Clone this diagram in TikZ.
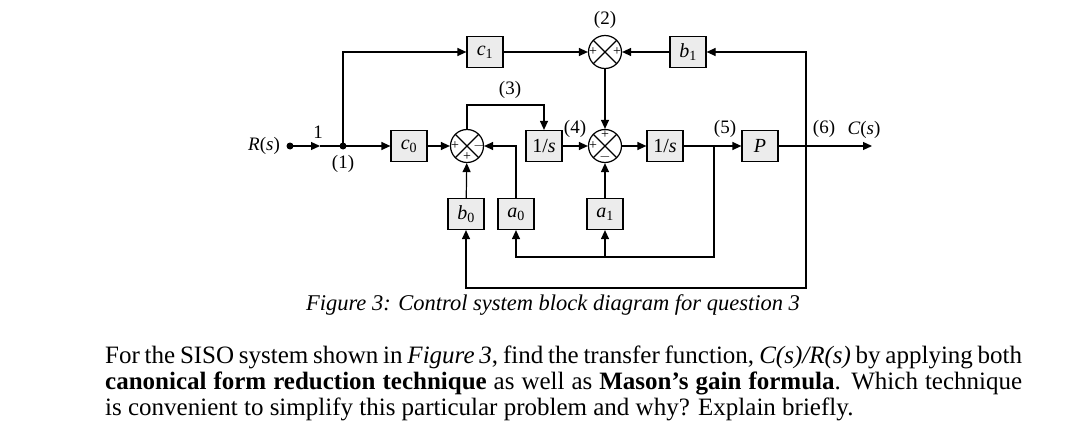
\documentclass[tikz,border=0pt]{standalone}
\usepackage{fontspec}
\setmainfont{Liberation Serif}
\usetikzlibrary{arrows.meta}
\newcommand{\vv}[2]{\textit{#1}\textsubscript{#2}}
\begin{document}
\begin{tikzpicture}[x=1pt,y=-1pt,
  blk/.style={draw,line width=1.2pt,fill=gray!15,minimum width=36pt,minimum height=31pt,inner sep=0pt,font=\fontsize{20}{20}\selectfont},
  sum/.style={draw,line width=1.2pt,circle,minimum size=33pt,inner sep=0pt,
    path picture={\draw[line width=1.1pt] (path picture bounding box.north west)--(path picture bounding box.south east)
      (path picture bounding box.north east)--(path picture bounding box.south west);}},
  sg/.style={font=\fontsize{14}{14}\selectfont,inner sep=0pt},
  w/.style={line width=1.2pt},
  a/.style={w,-{Triangle[length=9pt,width=8pt]}},
  lb/.style={font=\fontsize{19}{19}\selectfont}]
\useasboundingbox (0,0) rectangle (1080,436);
% nodes
\node[lb] (R) at (264,146) {\textit{R}(\textit{s})};
\fill (290,146) circle (3.5pt) coordinate (r0);
\fill (343,146) circle (3.5pt) coordinate (j1);
\coordinate (m1) at (320,146);
\node[lb] at (318,132) {1};
\node[lb] at (343,164) {(1)};
\node[blk] (c0) at (409,146) {\vv{c}{0}};
\node[sum] (s1) at (467,146) {};
\node[blk] (is1) at (544,146) {1/\textit{s}};
\node[sum] (s2) at (605,146) {};
\node[blk] (is2) at (665,146) {1/\textit{s}};
\node[blk] (P) at (760,146) {\textit{P}};
\node[sum] (s3) at (605,52) {};
\node[blk] (c1) at (485,52) {\vv{c}{1}};
\node[blk] (b1) at (688,52) {\vv{b}{1}};
\node[blk] (b0) at (466,214) {\vv{b}{0}};
\node[blk] (a0) at (516,214) {\vv{a}{0}};
\node[blk] (a1) at (605,214) {\vv{a}{1}};
\coordinate (out) at (872,146);
\coordinate (t5) at (714,146);
\coordinate (t6) at (806,146);
\coordinate (bc) at (806,288);
\coordinate (ac) at (605,257);
% signs
\node[sg] at (455,146) {+}; \node[sg] at (479,146) {$-$}; \node[sg] at (467,157) {+};
\node[sg] at (593,146) {+}; \node[sg] at (605,135) {+}; \node[sg] at (605,157) {$-$};
\node[sg] at (593,52) {+}; \node[sg] at (617,52) {+};
% labels
\node[lb] at (605,20) {(2)};
\node[lb] at (510,90) {(3)};
\node[lb] at (575,129) {(4)};
\node[lb] at (725,129) {(5)};
\node[lb] at (824,129) {(6)};
\node[lb] at (864,130) {\textit{C}(\textit{s})};
% connectors
\draw[a] (r0) -- (m1);
\draw[w] (m1) -- (j1);
\draw[a] (j1) -- (c0);
\draw[a] (c0) -- (s1);
\draw[a] (j1) |- (c1);
\draw[a] (c1) -- (s3);
\draw[a] (s3) -- (s2);
\draw[a] (s1.north) |- (544,105) -- (is1.north);
\draw[a] (is1) -- (s2);
\draw[a] (s2) -- (is2);
\draw[a] (is2) -- (P);
\draw[a] (P) -- (out);
\draw[a] (t6) |- (b1);
\draw[a] (t6) -- (bc) -| (b0.south);
\draw[a] (b1) -- (s3);
\draw[a] (b0) -- (s1);
\draw[a] (a0.north) |- (s1.east);
\draw[a] (t5) |- (ac) -| (a0.south);
\draw[a] (ac) -- (a1.south);
\draw[a] (a1) -- (s2);
% caption and text
\node[font=\fontsize{22.5}{22.5}\selectfont\itshape] (cap) at (553,305) {Figure 3: Control system block diagram for question 3};
\node[anchor=north west,text width=917pt,align=justify,inner sep=0pt,font=\fontsize{25}{26}\selectfont] (txt) at (105,346)
{For the SISO system shown in \textit{Figure 3}, find the transfer function, \textit{C(s)/R(s)} by applying both \textbf{canonical form reduction technique} as well as \textbf{Mason's gain formula}. Which technique is convenient to simplify this particular problem and why? Explain briefly.};
\end{tikzpicture}
\end{document}
